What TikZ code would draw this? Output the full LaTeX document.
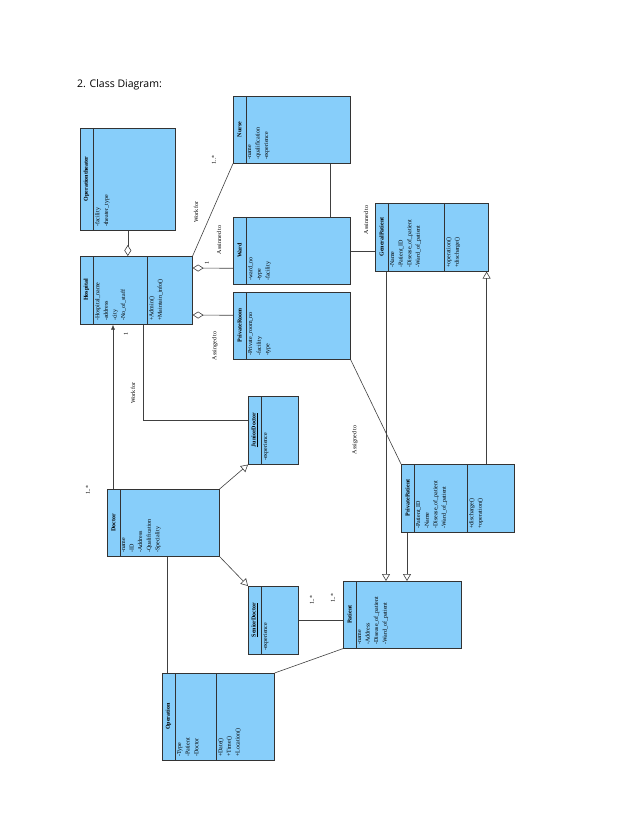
\documentclass[tikz,border=0pt]{standalone}
\usepackage{fontspec}
\setmainfont{Liberation Serif}
\newfontfamily\titlefont{Open Sans}
\usetikzlibrary{arrows.meta}
\definecolor{boxblue}{RGB}{135,206,250}
\tikzset{
  box/.style={draw=black!80,fill=boxblue,line width=0.6pt,inner sep=0pt},
  hdr/.style={rotate=90,font=\fontsize{6}{7}\selectfont\bfseries,inner sep=0pt},
  attr/.style={rotate=90,anchor=north west,align=left,font=\fontsize{6}{8.6}\selectfont,inner sep=0pt},
  lbl/.style={rotate=90,font=\fontsize{6}{7}\selectfont,inner sep=0pt},
  conn/.style={draw=black!75,line width=0.6pt},
  agg/.style={conn,{Diamond[open,length=11pt,width=7pt]}-},
  gen/.style={conn,-{Triangle[open,length=7pt,width=8pt]}}
}
\newcommand\umlcls[9]{%
  \node[box,minimum width=#4pt,minimum height=#5pt,anchor=north west] (#1) at (#2,#3) {};
  \draw[black!80,line width=0.6pt] (#2+13,#3) -- (#2+13,#3+#5);
  \node[hdr] (#1-t) at (#2+6.5,#3+#5/2) {#7};
  \node[attr] (#1-a) at (#2+15,#3+#5-3) {#8};
  \ifnum#6>0
    \draw[black!80,line width=0.6pt] (#2+#6,#3) -- (#2+#6,#3+#5);
    \node[attr] (#1-m) at (#2+#6+2,#3+#5-3) {#9};
  \fi
}
\begin{document}
\begin{tikzpicture}[x=1pt,y=-1pt]
\useasboundingbox (0,0) rectangle (638,826);
\node[anchor=west,font=\titlefont\fontsize{10.5}{12}\selectfont,inner sep=0pt] (title) at (77,85) {2. Class Diagram:};

\umlcls{ot}{80}{128}{95}{102}{0}{Operationtheater}{-facility\\-theater\_type}{}
\umlcls{nurse}{233}{96}{117}{67}{0}{Nurse}{-name\\-qualification\\-experience}{}
\umlcls{ward}{233}{217}{117}{67}{0}{Ward}{-ward\_no\\-type\\-facility}{}
\umlcls{proom}{233}{292}{117}{67}{0}{PrivateRoom}{-Private\_room\_no\\-facility\\-type}{}
\umlcls{hosp}{80}{256}{112}{68}{67}{Hospital}{-Hospital\_name\\-address\\-city\\-No\_of\_staff}{+Admin()\\+Maintain\_info()}
\umlcls{gp}{375}{203}{113}{68}{69}{GeneralPatient}{-Name\\-Patient\_ID\\-Disease\_of\_patient\\-Ward\_of\_patient}{+operation()\\+discharge()}
\umlcls{pp}{401}{464}{113}{68}{66}{PrivatePatient}{-Patient\_ID\\-Name\\-Disease\_of\_patient\\-Ward\_of\_patient}{+discharge()\\+operation()}
\umlcls{jd}{248}{396}{50}{68}{0}{\underline{JuniorDoctor}}{-experience}{}
\umlcls{doc}{107}{489}{112}{67}{0}{Doctor}{-name\\-ID\\-Address\\-Qualification\\-Speciality}{}
\umlcls{sd}{248}{586}{50}{68}{0}{\underline{SeniorDoctor}}{-experience}{}
\umlcls{pat}{343}{581}{118}{67}{0}{Patient}{-name\\-Address\\-Disease\_of\_patient\\-Ward\_of\_patient}{}
\umlcls{op}{162}{673}{112}{87}{54}{Operation}{-Type\\-Patient\\-Doctor}{+Date()\\+Time()\\+Location()}

% connectors
\draw[agg] (ot.south |- hosp.north) -- (ot.south);
\draw[conn] (hosp.north east) -- (nurse.south west);
\draw[agg] ([yshift=-12pt]hosp.north east) -- ([yshift=-17.5pt]ward.west);
\draw[agg] ([yshift=-59pt]hosp.north east) -- ([yshift=10.5pt]proom.west);
\draw[conn] ([xshift=-20pt]nurse.south east) -- ([xshift=-20pt]ward.north east);
\draw[conn] (ward.east) -- (gp.west |- ward.east);
\draw[conn] (proom.south east) -- (pp.north west);
\coordinate (gpx) at ([xshift=11pt]gp.south west);
\draw[gen] (gpx) -- (gpx |- pat.north);
\coordinate (ppx) at ([xshift=-28pt]pp.north east);
\draw[gen] (ppx) -- (ppx |- gp.south);
\coordinate (ppy) at ([xshift=6pt]pp.south west);
\draw[gen] (ppy) -- (ppy |- pat.north);
\coordinate (hdx) at ([xshift=33pt]hosp.south west);
\draw[conn,-{Latex[length=5pt,width=4pt]}] (hdx |- doc.north) -- (hdx);
\coordinate (hjx) at ([xshift=63pt]hosp.south west);
\draw[conn] (hjx) |- ([yshift=10pt]jd.west);
\draw[gen] (doc.north east) -- (jd.south west);
\draw[gen] (doc.south east) -- (sd.north west);
\draw[conn] (sd.east) -- (pat.west |- sd.east);
\coordinate (dox) at ([xshift=60pt]doc.south west);
\draw[conn] (dox) -- (dox |- op.north);
\draw[conn] (pat.south west) -- (op.north east);

% labels
\node[lbl] (l1) at (196,212) {Work for};
\node[lbl] (l2) at (214,160) {1..*};
\node[lbl] (l3) at (219,240) {Assinned to};
\node[lbl] (l4) at (207,263) {1};
\node[lbl] (l5) at (215,346) {Assinged to};
\node[lbl] (l6) at (366,220) {Assinned to};
\node[lbl] (l7) at (355,440) {Assigned to};
\node[lbl] (l8) at (126,334) {1};
\node[lbl] (l9) at (133,393) {Work for};
\node[lbl] (l10) at (88,490) {1..*};
\node[lbl] (l11) at (312,600) {1..*};
\node[lbl] (l12) at (333,598) {1..*};
\end{tikzpicture}
\end{document}
